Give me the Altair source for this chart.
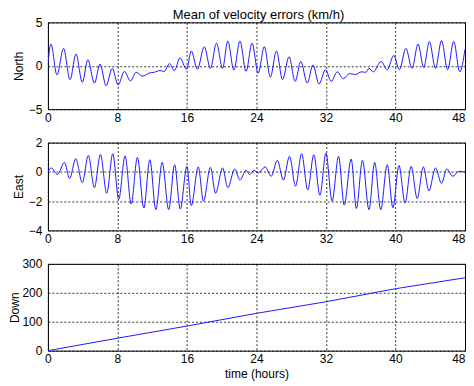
import altair as alt
import pandas as pd

# ---- data ----
north_t = [0, 0.35, 1.04, 1.8, 2.54, 3.23, 3.96, 4.6, 5.35, 6.0,
           6.7, 7.4, 8.08, 8.8, 9.5, 10.15, 10.9, 11.6, 12.2, 12.9,
           13.4, 14.0, 14.55, 15.2, 15.95, 16.5, 17.2, 18.0, 18.7, 19.4,
           20.1, 20.7, 21.4, 22.1, 22.8, 23.5, 24.2, 24.9, 25.6, 26.3,
           27.0, 27.75, 28.45, 29.1, 29.85, 30.5, 31.2, 31.95, 32.6, 33.3,
           34.0, 34.7, 35.4, 36.1, 36.6, 36.95, 37.45, 38.35, 39.05, 39.8,
           40.45, 41.2, 41.9, 42.6, 43.25, 43.9, 44.6, 45.3, 46.0, 46.7,
           47.4, 48.0]
north_v = [0.2, 2.5, -1.05, 2.0, -1.6, 1.35, -1.9, 0.7, -2.0, 0.2,
           -2.3, -0.3, -2.2, -0.65, -1.75, -0.75, -1.2, -0.85, -0.75, -0.55,
           -0.65, 0.25, -0.55, 0.9, -0.4, 1.7, -0.4, 2.2, -0.3, 2.6,
           -0.3, 2.85, -0.5, 2.85, -0.65, 2.6, -0.85, 2.2, -1.3, 1.7,
           -1.6, 1.05, -1.8, 0.5, -2.0, 0.1, -2.1, -0.45, -1.8, -0.7,
           -1.5, -0.9, -1.0, -0.7, -0.75, -0.3, -0.7, 0.5, -0.45, 1.2,
           -0.45, 2.0, -0.3, 2.5, -0.2, 2.8, -0.3, 2.9, -0.45, 2.8,
           -0.7, 1.9]

east_t = [0, 0.4, 1.1, 1.9, 2.5, 3.2, 3.96, 4.65, 5.35, 6.04,
          6.77, 7.46, 8.15, 8.88, 9.58, 10.3, 11.04, 11.73, 12.42, 13.15,
          13.9, 14.58, 15.23, 16.0, 16.5, 17.3, 17.9, 18.7, 19.3, 20.1,
          20.7, 21.5, 22.1, 22.8, 23.2, 23.7, 24.2, 25.0, 25.7, 26.4,
          27.1, 27.8, 28.5, 29.2, 29.9, 30.6, 31.3, 32.0, 32.7, 33.45,
          34.1, 34.9, 35.5, 36.2, 36.95, 37.6, 38.3, 39.05, 39.7, 40.4,
          41.1, 41.8, 42.5, 43.2, 43.85, 44.6, 45.3, 45.9, 46.6, 47.3,
          48.0]
east_v = [0, 0.27, -0.18, 0.65, -0.45, 0.9, -0.74, 1.12, -1.08, 1.19,
          -1.46, 1.24, -1.87, 1.1, -2.2, 0.99, -2.47, 0.83, -2.58, 0.65,
          -2.58, 0.49, -2.54, 0.38, -2.3, 0.34, -2.0, 0.31, -1.46, 0.27,
          -1.08, 0.2, -0.56, 0.11, -0.18, 0.11, -0.07, 0.34, -0.3, 0.79,
          -0.56, 1.06, -0.97, 1.24, -1.24, 1.17, -1.6, 1.28, -2.0, 1.06,
          -2.27, 0.88, -2.5, 0.79, -2.58, 0.65, -2.58, 0.49, -2.45, 0.43,
          -2.13, 0.38, -1.82, 0.34, -1.3, 0.27, -0.79, 0.2, -0.3, 0.04,
          -0.02]

down_t = [0, 8, 16, 24, 32, 40, 48]
down_v = [0, 43, 85, 129, 169, 214, 252]

x_ticks = [0, 8, 16, 24, 32, 40, 48]
north_ticks = [-5, 0, 5]
east_ticks = [-4, -2, 0, 2]
down_ticks = [0, 100, 200, 300]

TITLE = "Mean of velocity errors (km/h)"
FONT = "Liberation Sans"
W = 418

LAST_RIGHT = {"condition": {"test": "datum.value >= 48", "value": "right"},
              "value": "center"}


def panel(t, v, ylabel, ydomain, yticks, height, title_x, interp,
          xtitle=None):
    df = pd.DataFrame({"t": t, "v": v})
    x_axis = alt.Axis(values=x_ticks, title=xtitle, grid=True, ticks=False,
                      labelPadding=3, titlePadding=4, labelFlush=False,
                      labelAlign=LAST_RIGHT, format="d")
    y_axis = alt.Axis(values=yticks, title=ylabel, grid=True, ticks=False,
                      labelPadding=6, titleX=title_x, titleY=height / 2,
                      titleAngle=-90, titleAlign="center",
                      titleBaseline="middle", format="d")
    return alt.Chart(df).mark_line(
        color="#1a1aff", strokeWidth=1, interpolate=interp, clip=True
    ).encode(
        x=alt.X("t:Q", scale=alt.Scale(domain=[0, 48], nice=False), axis=x_axis),
        y=alt.Y("v:Q", scale=alt.Scale(domain=ydomain, nice=False), axis=y_axis),
    ).properties(width=W, height=height)


title_mark = alt.Chart(pd.DataFrame({"title": [TITLE]})).mark_text(
    font=FONT, fontSize=13, color="black", baseline="alphabetic",
    align="center"
).encode(
    text="title:N", x=alt.value(W / 2 + 2), y=alt.value(-3)
)

top = alt.layer(
    panel(north_t, north_v, "North", [-5, 5], north_ticks, 87, -29.5,
          "monotone"),
    title_mark,
).properties(width=W, height=87)
mid = panel(east_t, east_v, "East", [-4, 2], east_ticks, 88, -29.5, "monotone")
bot = panel(down_t, down_v, "Down", [0, 300], down_ticks, 87, -33, "linear",
            xtitle="time (hours)")

chart = alt.vconcat(top, mid, bot, spacing=33.5, bounds="flush").properties(
    padding={"left": 0, "top": 0, "right": 0, "bottom": 0}
).configure(font=FONT).configure_view(
    stroke="black", strokeWidth=1
).configure_axis(
    domain=False, gridColor="black", gridDash=[2, 2], gridOpacity=1,
    gridWidth=0.8, labelFont=FONT, labelFontSize=12, labelColor="black",
    titleFont=FONT, titleFontSize=12, titleColor="black",
    titleFontWeight="normal"
)

chart.save("out.html", embed_options={"renderer": "svg", "actions": False})
